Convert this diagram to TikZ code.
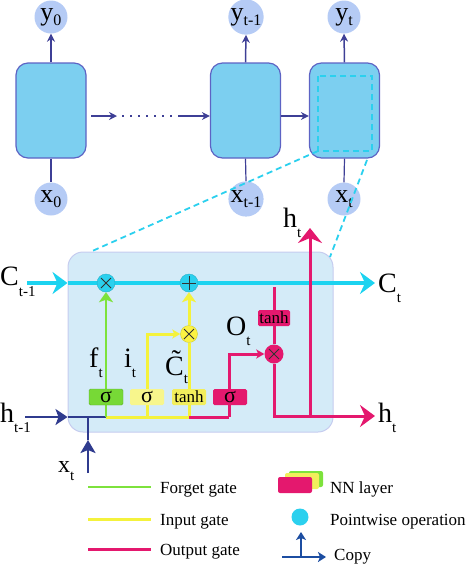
\documentclass[tikz,border=0pt]{standalone}
\usepackage{fontspec}
\setmainfont{Liberation Serif}
\usetikzlibrary{arrows.meta,calc}
\definecolor{cyanL}{HTML}{1CD3F0}
\definecolor{cyanD}{HTML}{2BD0EE}
\definecolor{limeG}{HTML}{7DE23C}
\definecolor{boxG}{HTML}{77D936}
\definecolor{yelL}{HTML}{F4F23C}
\definecolor{boxY}{HTML}{F7F68C}
\definecolor{boxY2}{HTML}{F2EE5C}
\definecolor{pinkM}{HTML}{E4186E}
\definecolor{navy}{HTML}{2F3B8E}
\definecolor{topArrow}{HTML}{3E3F96}
\definecolor{cellFill}{HTML}{7CCFF0}
\definecolor{cellLine}{HTML}{5D63C4}
\definecolor{circFill}{HTML}{B5CBF5}
\definecolor{lstmFill}{HTML}{D4EBF8}
\definecolor{lstmLine}{HTML}{C6CCEF}
\definecolor{copyBlue}{HTML}{1C4DA1}
\newcommand{\sbx}[3]{\raisebox{-#1}{\fontsize{#2}{#2}\selectfont #3}}
\begin{document}
\begin{tikzpicture}[x=1pt,y=-1pt,
  cell/.style={draw=cellLine, fill=cellFill, line width=1.2pt, rounded corners=12pt, minimum width=70pt, minimum height=95pt, inner sep=0pt},
  io/.style={circle, fill=circFill, minimum size=33pt, inner sep=0pt, font=\fontsize{26}{26}\selectfont},
  tarrow/.style={topArrow, line width=1.5pt, -{Stealth[length=8pt,width=8pt]}},
  tline/.style={topArrow, line width=1.2pt},
  gatebox/.style={minimum width=34pt, minimum height=16pt, inner sep=0pt, rounded corners=1.5pt},
  sig/.style={font=\fontsize{22}{22}\selectfont},
  tnh/.style={font=\fontsize{17}{17}\selectfont},
  pw/.style={circle, inner sep=0pt},
  lbl/.style={inner sep=0pt, font=\fontsize{28}{28}\selectfont},
  leg/.style={inner sep=0pt, anchor=base west, font=\fontsize{17}{17}\selectfont},
  cyanline/.style={cyanL, line width=3.5pt},
  pinkline/.style={pinkM, line width=3pt},
  yellowline/.style={yelL, line width=3pt},
  greenline/.style={limeG, line width=2.6pt},
  navyline/.style={navy, line width=2.4pt},
  bigtip/.style={-{Stealth[length=15pt,width=22pt,inset=5pt]}},
  midtip/.style={-{Stealth[length=10pt,width=14pt,inset=2.5pt]}},
  smalltip/.style={-{Stealth[length=8pt,width=9pt,inset=2pt]}}
]
\useasboundingbox (0,0) rectangle (474,566);

% ---------- top unrolled chain ----------
\node[cell] (c1) at (51,110.5) {};
\node[cell] (c2) at (245.5,110.5) {};
\node[cell] (c3) at (344.5,110.5) {};
\node[io] (y0) at (51,17) {y\sbx{5pt}{16}{0}};
\node[io] (y1) at (246,17) {y\sbx{5pt}{16}{t-1}};
\node[io] (y2) at (344,17) {y\sbx{5pt}{16}{t}};
\node[io] (x0) at (51,199) {x\sbx{5pt}{16}{0}};
\node[io] (x1) at (246,199) {x\sbx{5pt}{16}{t-1}};
\node[io] (x2) at (344,199) {x\sbx{5pt}{16}{t}};
\draw[tarrow] (c1.north) -- (y0.south);
\draw[tarrow] (c2.north) -- (y1.south);
\draw[tarrow] (c3.north) -- (y2.south);
\draw[tline] (c1.south) -- (x0.north);
\draw[tline] (c2.south) -- (x1.north);
\draw[tline] (c3.south) -- (x2.north);
\coordinate (h1a) at (91,116);
\coordinate (h1b) at (117,116);
\coordinate (h2a) at (122,116);
\coordinate (h2b) at (172,116);
\coordinate (h3a) at (178,116);
\draw[tarrow] (h1a) -- (h1b);
\draw[topArrow, line width=1.8pt, dash pattern=on 2pt off 6pt] (h2a) -- (h2b);
\draw[tarrow] (h3a) -- (c2.west|-h3a);
\draw[tarrow] (c2.east|-h3a) -- (c3.west|-h3a);
\draw[cyanD, line width=1.8pt, dash pattern=on 6pt off 4pt] (318,76) rectangle (372,151);

% ---------- LSTM cell ----------
\node[draw=lstmLine, fill=lstmFill, line width=1pt, rounded corners=15pt, minimum width=265pt, minimum height=180pt, inner sep=0pt] (L) at (200.5,342) {};
\coordinate (d1) at (318,151);
\coordinate (d2) at (367,160);
\coordinate (e1) at (90,252);
\coordinate (e2) at (330,257);
\draw[cyanD, line width=1.8pt, dash pattern=on 6pt off 4pt] (d1) -- (e1);
\draw[cyanD, line width=1.8pt, dash pattern=on 6pt off 4pt] (d2) -- (e2);

% cell state line
\coordinate (Cin) at (27,283);
\coordinate (Cout) at (375,283);
\draw[cyanline, bigtip] (Cin) -- (L.west|-Cin);
\draw[cyanline, bigtip] (L.west|-Cin) -- (Cout);

% junction coordinates
\coordinate (hin) at (25,417);
\coordinate (jf) at (106,417);
\coordinate (ji) at (147,417);
\coordinate (jc) at (189,417);
\coordinate (jo) at (229,417);
\coordinate (xin) at (88,473);
\coordinate (xmid) at (88,440);
\coordinate (xj) at (88,417);
\coordinate (hout) at (375,416);
\coordinate (hsplit) at (310,416);
\coordinate (hup) at (310,228);
\coordinate (ptop) at (274,287);

% pointwise node positions
\node[pw, minimum size=18pt] (mf) at (106,283) {};
\node[pw, minimum size=18pt] (add) at (189,283) {};
\node[pw, minimum size=17pt] (my) at (189,334) {};
\node[pw, minimum size=19pt] (mo) at (274,354) {};

% lines
\draw[navyline, -{Stealth[length=12pt,width=16pt,inset=3pt]}] (hin) -- (L.west|-hin);
\draw[navyline] (L.west|-hin) -- (jf);
\draw[navyline, -{Stealth[length=13pt,width=15pt,inset=3pt]}] (xin) -- (xmid);
\draw[navyline] (xmid) -- (xj);
\draw[yellowline] (jf) -- (jc);
\draw[greenline, midtip] (jf) -- (mf.south);
\draw[yellowline, smalltip] (ji) |- (my.west);
\draw[yellowline] (jc) -- (my.south);
\draw[yellowline, midtip] (my.north) -- (add.south);
\draw[pinkline] (jc) -- (jo);
\draw[pinkline, smalltip] (jo) |- (mo.west);
\draw[pinkline] (ptop) -- (mo.north);
\draw[pinkline, bigtip] (mo.south) |- (hout);
\draw[pinkline, -{Stealth[length=15pt,width=24pt,inset=5pt]}] (hsplit) -- (hup);

% pointwise circles with symbols
\fill[cyanD, draw=cyanD!85!black] (mf) circle (9pt);
\fill[cyanD, draw=cyanD!85!black] (add) circle (9pt);
\filldraw[fill=yellow!55!boxY, draw=yelL!85!black] (my) circle (8.5pt);
\fill[pinkM] (mo) circle (9.5pt);
\draw[line width=0.9pt, black!80] ($(mf)+(-5,-5)$) -- ($(mf)+(5,5)$) ($(mf)+(-5,5)$) -- ($(mf)+(5,-5)$);
\draw[line width=0.9pt, black!80] ($(add)+(-7,0)$) -- ($(add)+(7,0)$) ($(add)+(0,-7)$) -- ($(add)+(0,7)$);
\draw[line width=0.9pt, black!80] ($(my)+(-5,-5)$) -- ($(my)+(5,5)$) ($(my)+(-5,5)$) -- ($(my)+(5,-5)$);
\draw[line width=0.9pt, black!80] ($(mo)+(-5,-5)$) -- ($(mo)+(5,5)$) ($(mo)+(-5,5)$) -- ($(mo)+(5,-5)$);

% gate boxes
\node[gatebox, fill=boxG, draw=boxG!80!black, sig] (sf) at (106,397) {σ};
\node[gatebox, fill=boxY, sig] (si) at (147,397) {σ};
\node[gatebox, fill=boxY2, tnh] (tc) at (189,397) {tanh};
\node[gatebox, fill=pinkM, sig] (so) at (230,397) {σ};
\node[gatebox, fill=pinkM, tnh, minimum width=32pt] (th) at (274,318) {tanh};

% labels
\node[lbl, anchor=base west] (lCp) at (0,285) {C\sbx{11pt}{15}{t-1}};
\node[lbl, anchor=base west] (lCt) at (378,292) {C\sbx{10pt}{15}{t}};
\node[lbl, anchor=base west] (lhp) at (0,422) {h\sbx{10pt}{15}{t-1}};
\node[lbl, anchor=base west] (lho) at (378,422) {h\sbx{10pt}{15}{t}};
\node[lbl, anchor=base west] (lhu) at (283,227) {h\sbx{10pt}{15}{t}};
\node[lbl, anchor=base west] (lf) at (89,367) {f\sbx{10pt}{15}{t}};
\node[lbl, anchor=base west] (li) at (124,367) {i\sbx{10pt}{15}{t}};
\node[lbl, anchor=base west] (lc) at (165,375) {\~{C}\sbx{8pt}{15}{t}};
\node[lbl, anchor=base west] (lo) at (226,335) {O\sbx{10pt}{15}{t}};
\node[lbl, anchor=base west, font=\fontsize{24}{24}\selectfont] (lx) at (58,472) {x\sbx{8pt}{15}{t}};

% ---------- legend ----------
\coordinate (g1a) at (88,487); \coordinate (g1b) at (151,487);
\coordinate (g2a) at (88,519); \coordinate (g2b) at (151,519);
\coordinate (g3a) at (88,549); \coordinate (g3b) at (151,549);
\draw[greenline] (g1a) -- (g1b);
\draw[yellowline] (g2a) -- (g2b);
\draw[pinkline] (g3a) -- (g3b);
\node[leg] (t1) at (160,493) {Forget gate};
\node[leg] (t2) at (160,525) {Input gate};
\node[leg] (t3) at (160,555) {Output gate};
\fill[limeG, rounded corners=2pt] (289,471) rectangle (323,487);
\fill[boxY2, rounded corners=2pt] (285,473) rectangle (319,489);
\fill[pinkM, rounded corners=2pt] (278,477) rectangle (312,493);
\fill[cyanD] (300,517) circle (8.5pt);
\coordinate (cpa) at (282,557); \coordinate (cpb) at (326,557);
\coordinate (cpc) at (301,557); \coordinate (cpd) at (301,532);
\draw[copyBlue, line width=1.8pt, -{Stealth[length=8pt,width=10pt,inset=2pt]}] (cpa) -- (cpb);
\draw[copyBlue, line width=1.8pt, -{Stealth[length=8pt,width=10pt,inset=2pt]}] (cpc) -- (cpd);
\node[leg] (t4) at (330,493) {NN layer};
\node[leg] (t5) at (330,525) {Pointwise operation};
\node[leg] (t6) at (334,560) {Copy};
\end{tikzpicture}
\end{document}
